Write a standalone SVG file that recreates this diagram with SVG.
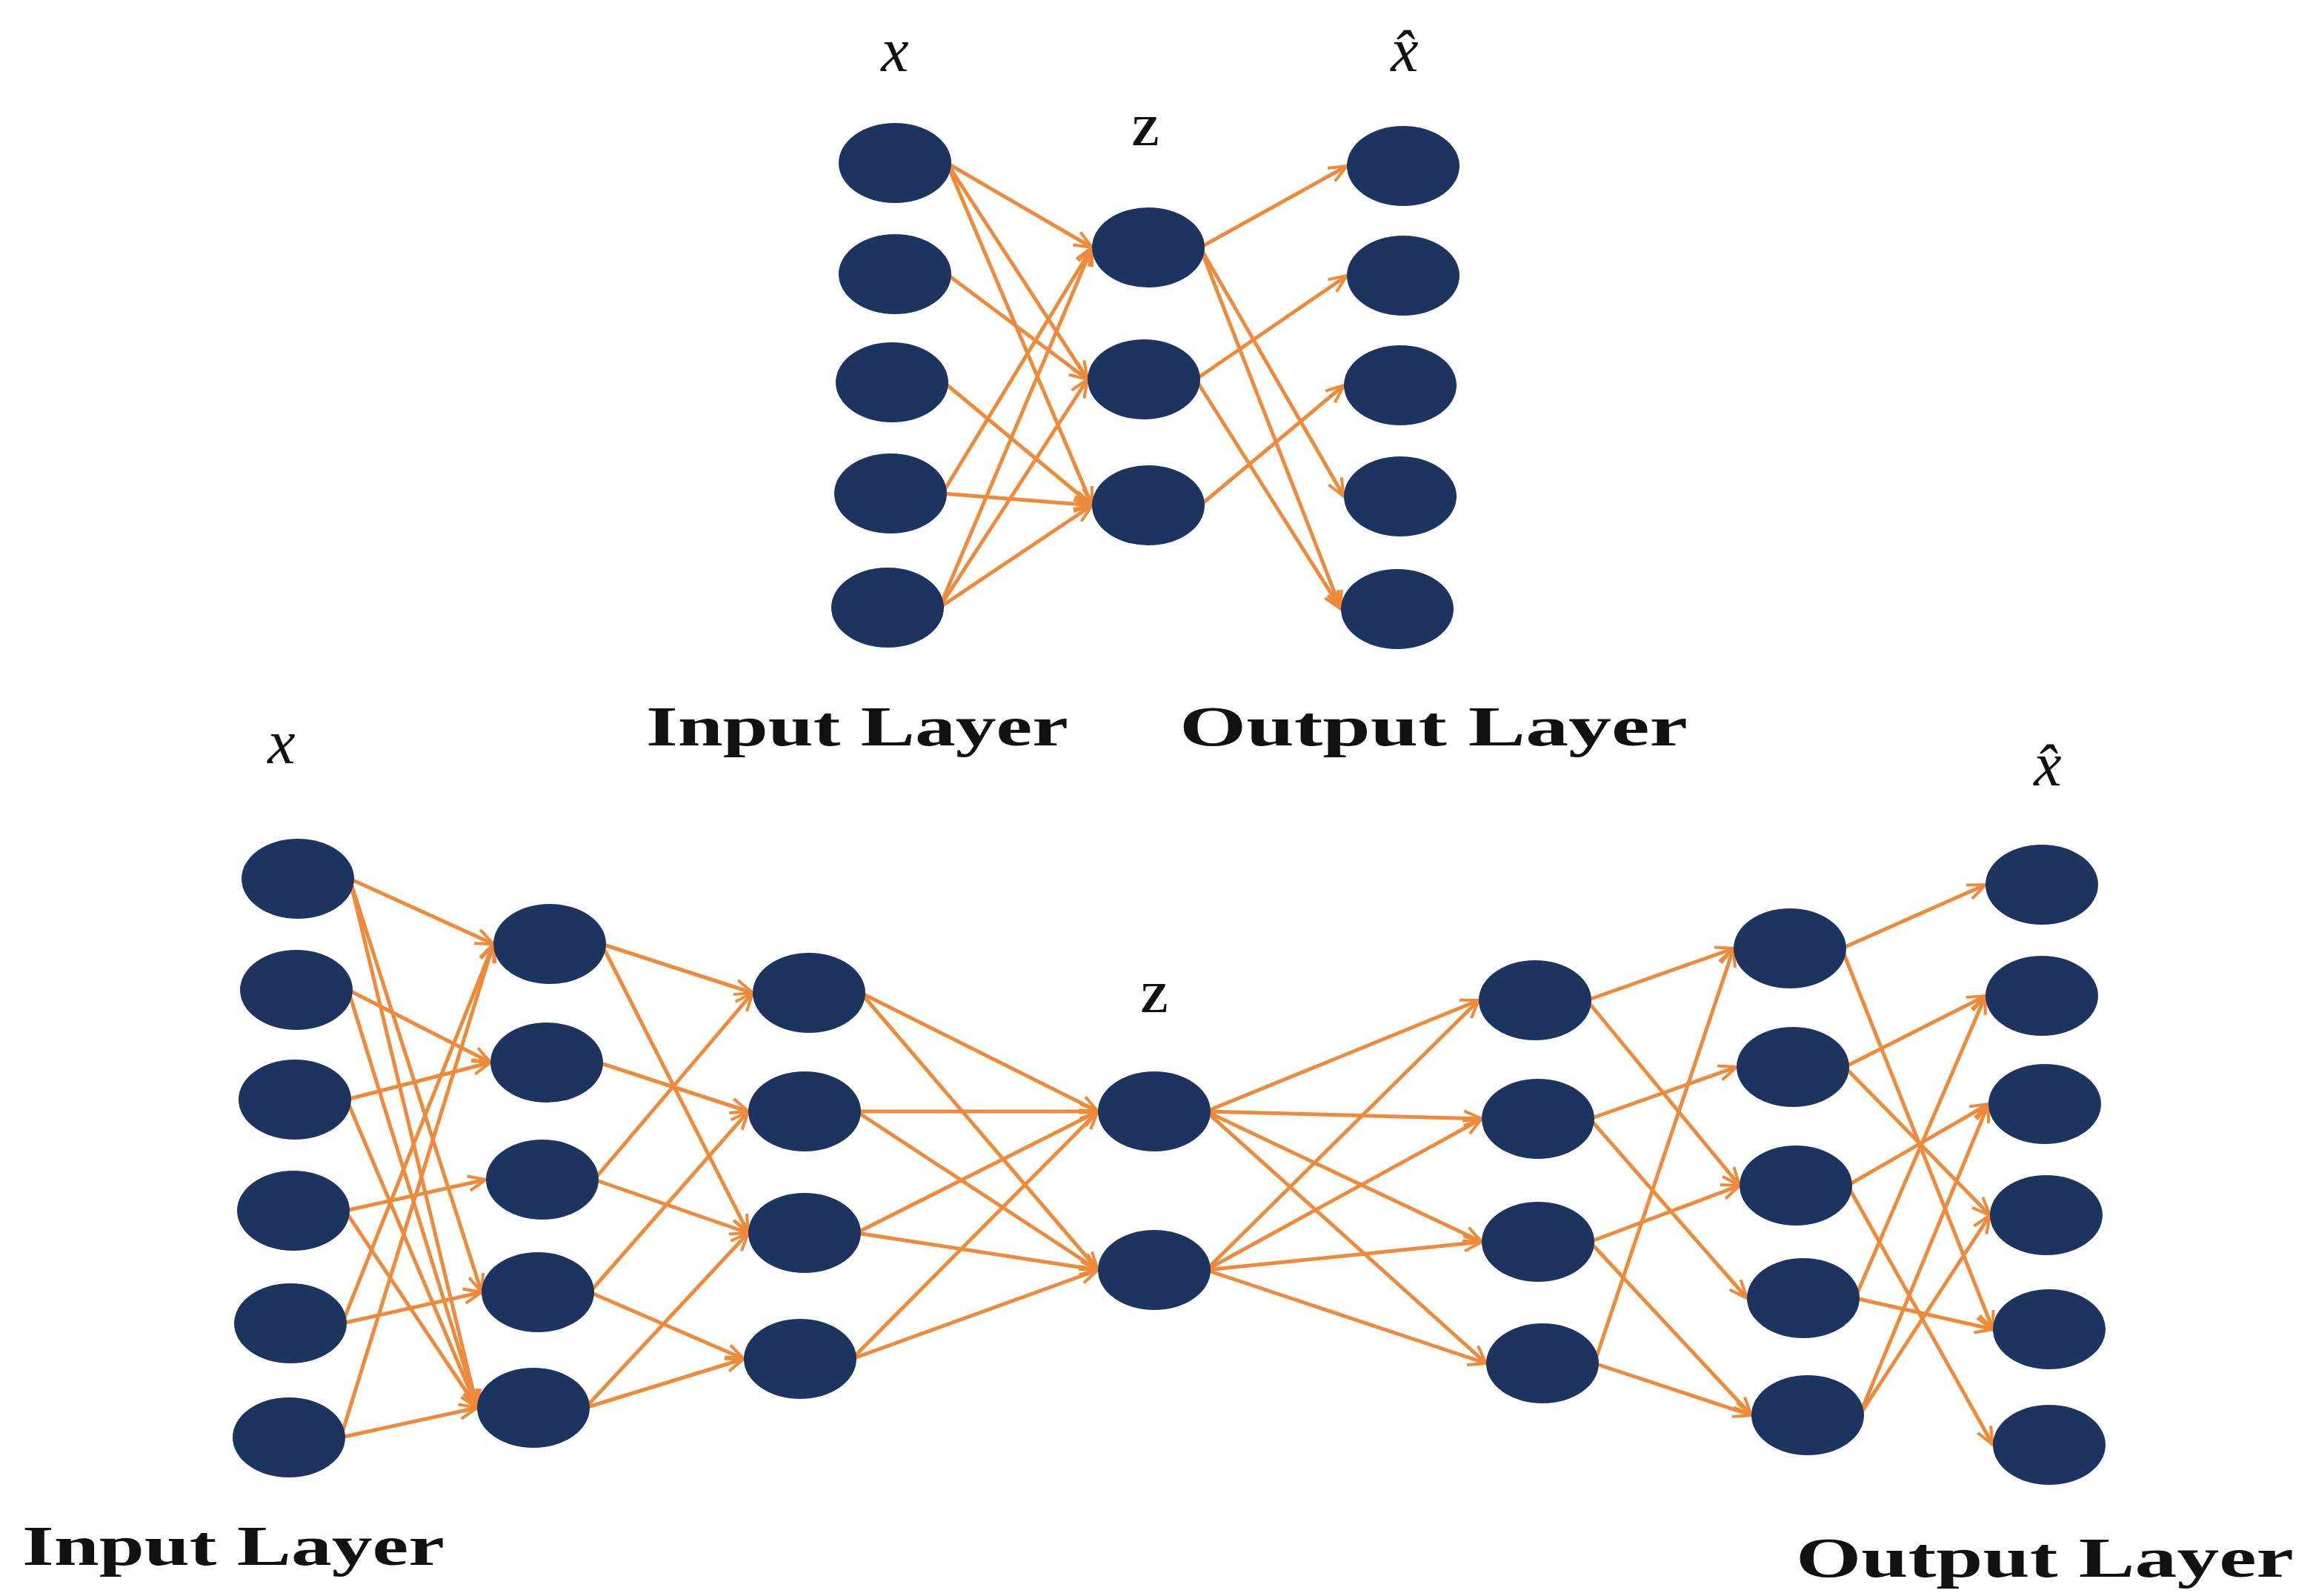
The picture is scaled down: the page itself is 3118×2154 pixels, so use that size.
<svg xmlns="http://www.w3.org/2000/svg" width="3118" height="2154" viewBox="0 0 3118 2154">
<style>
.n{fill:#1d3461}
.e line{stroke:#ef8a3a;stroke-width:5;marker-end:url(#a)}
.lab{font-family:"Liberation Serif",serif;font-weight:bold;font-size:76px;fill:#111}
.v{font-family:"Liberation Serif",serif;font-style:italic;font-size:84px;fill:#111}
.z{font-family:"Liberation Serif",serif;font-weight:bold;font-size:58px;fill:#111}
</style>
<defs>
<marker id="a" markerUnits="userSpaceOnUse" markerWidth="30" markerHeight="24" refX="26" refY="12" orient="auto">
<path d="M2,2 L26,12 L2,22" fill="none" stroke="#ef8a3a" stroke-width="4"/>
</marker>
</defs>
<rect width="3118" height="2154" fill="#fff"/>
<g id="connectors" class="e">
<line x1="1278" y1="220" x2="1474" y2="334"/><line x1="1278" y1="220" x2="1468" y2="512"/><line x1="1278" y1="220" x2="1474" y2="682"/>
<line x1="1278" y1="370" x2="1468" y2="512"/>
<line x1="1274" y1="516" x2="1474" y2="682"/>
<line x1="1272" y1="666" x2="1474" y2="334"/><line x1="1272" y1="666" x2="1474" y2="682"/>
<line x1="1268" y1="820" x2="1474" y2="334"/><line x1="1268" y1="820" x2="1468" y2="512"/><line x1="1268" y1="820" x2="1474" y2="682"/>
<line x1="1620" y1="334" x2="1818" y2="224"/><line x1="1620" y1="334" x2="1814" y2="670"/><line x1="1620" y1="334" x2="1810" y2="822"/>
<line x1="1614" y1="512" x2="1818" y2="372"/><line x1="1614" y1="512" x2="1810" y2="822"/>
<line x1="1620" y1="682" x2="1814" y2="520"/>
<line x1="472" y1="1186" x2="666" y2="1274"/><line x1="472" y1="1186" x2="650" y2="1744"/><line x1="472" y1="1186" x2="644" y2="1900"/>
<line x1="470" y1="1336" x2="662" y2="1434"/><line x1="470" y1="1336" x2="644" y2="1900"/>
<line x1="468" y1="1484" x2="662" y2="1434"/><line x1="468" y1="1484" x2="644" y2="1900"/>
<line x1="466" y1="1634" x2="656" y2="1592"/><line x1="466" y1="1634" x2="644" y2="1900"/>
<line x1="462" y1="1786" x2="666" y2="1274"/><line x1="462" y1="1786" x2="650" y2="1744"/>
<line x1="460" y1="1940" x2="666" y2="1274"/><line x1="460" y1="1940" x2="644" y2="1900"/>
<line x1="812" y1="1274" x2="1016" y2="1340"/><line x1="812" y1="1274" x2="1010" y2="1664"/>
<line x1="808" y1="1434" x2="1010" y2="1500"/>
<line x1="802" y1="1592" x2="1016" y2="1340"/><line x1="802" y1="1592" x2="1010" y2="1664"/>
<line x1="796" y1="1744" x2="1010" y2="1500"/><line x1="796" y1="1744" x2="1004" y2="1834"/>
<line x1="790" y1="1900" x2="1004" y2="1834"/><line x1="790" y1="1900" x2="1010" y2="1664"/>
<line x1="1162" y1="1340" x2="1482" y2="1500"/><line x1="1162" y1="1340" x2="1482" y2="1714"/>
<line x1="1156" y1="1500" x2="1482" y2="1500"/><line x1="1156" y1="1500" x2="1482" y2="1714"/>
<line x1="1156" y1="1664" x2="1482" y2="1500"/><line x1="1156" y1="1664" x2="1482" y2="1714"/>
<line x1="1150" y1="1834" x2="1482" y2="1500"/><line x1="1150" y1="1834" x2="1482" y2="1714"/>
<line x1="1628" y1="1500" x2="1996" y2="1350"/><line x1="1628" y1="1500" x2="2000" y2="1510"/><line x1="1628" y1="1500" x2="2000" y2="1676"/><line x1="1628" y1="1500" x2="2006" y2="1840"/>
<line x1="1628" y1="1714" x2="1996" y2="1350"/><line x1="1628" y1="1714" x2="2000" y2="1510"/><line x1="1628" y1="1714" x2="2000" y2="1676"/><line x1="1628" y1="1714" x2="2006" y2="1840"/>
<line x1="2142" y1="1350" x2="2340" y2="1280"/><line x1="2142" y1="1350" x2="2348" y2="1600"/>
<line x1="2146" y1="1510" x2="2344" y2="1440"/><line x1="2146" y1="1510" x2="2358" y2="1752"/>
<line x1="2146" y1="1676" x2="2348" y2="1600"/><line x1="2146" y1="1676" x2="2364" y2="1910"/>
<line x1="2152" y1="1840" x2="2340" y2="1280"/><line x1="2152" y1="1840" x2="2364" y2="1910"/>
<line x1="2486" y1="1280" x2="2680" y2="1194"/><line x1="2486" y1="1280" x2="2690" y2="1794"/>
<line x1="2490" y1="1440" x2="2680" y2="1344"/><line x1="2490" y1="1440" x2="2686" y2="1640"/>
<line x1="2494" y1="1600" x2="2684" y2="1490"/><line x1="2494" y1="1600" x2="2690" y2="1950"/>
<line x1="2504" y1="1752" x2="2680" y2="1344"/><line x1="2504" y1="1752" x2="2690" y2="1794"/>
<line x1="2510" y1="1910" x2="2684" y2="1490"/><line x1="2510" y1="1910" x2="2686" y2="1640"/>
</g>
<g id="top-input"><ellipse class="n" cx="1208" cy="220" rx="76" ry="54"/><ellipse class="n" cx="1208" cy="370" rx="76" ry="54"/><ellipse class="n" cx="1204" cy="516" rx="76" ry="54"/><ellipse class="n" cx="1202" cy="666" rx="76" ry="54"/><ellipse class="n" cx="1198" cy="820" rx="76" ry="54"/></g>
<g id="top-z"><ellipse class="n" cx="1550" cy="334" rx="76" ry="54"/><ellipse class="n" cx="1544" cy="512" rx="76" ry="54"/><ellipse class="n" cx="1550" cy="682" rx="76" ry="54"/></g>
<g id="top-output"><ellipse class="n" cx="1894" cy="224" rx="76" ry="54"/><ellipse class="n" cx="1894" cy="372" rx="76" ry="54"/><ellipse class="n" cx="1890" cy="520" rx="76" ry="54"/><ellipse class="n" cx="1890" cy="670" rx="76" ry="54"/><ellipse class="n" cx="1886" cy="822" rx="76" ry="54"/></g>
<g id="b-l1"><ellipse class="n" cx="402" cy="1186" rx="76" ry="54"/><ellipse class="n" cx="400" cy="1336" rx="76" ry="54"/><ellipse class="n" cx="398" cy="1484" rx="76" ry="54"/><ellipse class="n" cx="396" cy="1634" rx="76" ry="54"/><ellipse class="n" cx="392" cy="1786" rx="76" ry="54"/><ellipse class="n" cx="390" cy="1940" rx="76" ry="54"/></g>
<g id="b-l2"><ellipse class="n" cx="742" cy="1274" rx="76" ry="54"/><ellipse class="n" cx="738" cy="1434" rx="76" ry="54"/><ellipse class="n" cx="732" cy="1592" rx="76" ry="54"/><ellipse class="n" cx="726" cy="1744" rx="76" ry="54"/><ellipse class="n" cx="720" cy="1900" rx="76" ry="54"/></g>
<g id="b-l3"><ellipse class="n" cx="1092" cy="1340" rx="76" ry="54"/><ellipse class="n" cx="1086" cy="1500" rx="76" ry="54"/><ellipse class="n" cx="1086" cy="1664" rx="76" ry="54"/><ellipse class="n" cx="1080" cy="1834" rx="76" ry="54"/></g>
<g id="b-z"><ellipse class="n" cx="1558" cy="1500" rx="76" ry="54"/><ellipse class="n" cx="1558" cy="1714" rx="76" ry="54"/></g>
<g id="b-l5"><ellipse class="n" cx="2072" cy="1350" rx="76" ry="54"/><ellipse class="n" cx="2076" cy="1510" rx="76" ry="54"/><ellipse class="n" cx="2076" cy="1676" rx="76" ry="54"/><ellipse class="n" cx="2082" cy="1840" rx="76" ry="54"/></g>
<g id="b-l6"><ellipse class="n" cx="2416" cy="1280" rx="76" ry="54"/><ellipse class="n" cx="2420" cy="1440" rx="76" ry="54"/><ellipse class="n" cx="2424" cy="1600" rx="76" ry="54"/><ellipse class="n" cx="2434" cy="1752" rx="76" ry="54"/><ellipse class="n" cx="2440" cy="1910" rx="76" ry="54"/></g>
<g id="b-l7"><ellipse class="n" cx="2756" cy="1194" rx="76" ry="54"/><ellipse class="n" cx="2756" cy="1344" rx="76" ry="54"/><ellipse class="n" cx="2760" cy="1490" rx="76" ry="54"/><ellipse class="n" cx="2762" cy="1640" rx="76" ry="54"/><ellipse class="n" cx="2766" cy="1794" rx="76" ry="54"/><ellipse class="n" cx="2766" cy="1950" rx="76" ry="54"/></g>
<g id="labels">
<text class="v" x="1208" y="96" text-anchor="middle">x</text>
<text class="z" x="1546" y="196" text-anchor="middle">Z</text>
<text class="v" x="1896" y="96" text-anchor="middle">x̂</text>
<text class="lab" x="872" y="1006" textLength="570" lengthAdjust="spacingAndGlyphs">Input Layer</text>
<text class="lab" x="1592" y="1006" textLength="686" lengthAdjust="spacingAndGlyphs">Output  Layer</text>
<text class="v" x="380" y="1030" text-anchor="middle">x</text>
<text class="z" x="1558" y="1366" text-anchor="middle">Z</text>
<text class="v" x="2764" y="1060" text-anchor="middle">x̂</text>
<text class="lab" x="30" y="2112" textLength="570" lengthAdjust="spacingAndGlyphs">Input Layer</text>
<text class="lab" x="2424" y="2128" textLength="672" lengthAdjust="spacingAndGlyphs">Output  Layer</text>
</g>
</svg>
